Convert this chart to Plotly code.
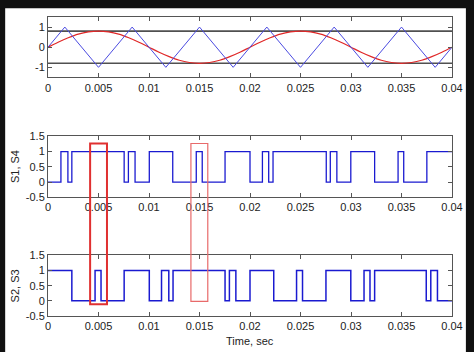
import plotly.graph_objects as go

# ---- data (time in ms) ----
carrier_t = [0, 1.667, 5, 8.333, 11.667, 15, 18.333, 21.667, 25, 28.333, 31.667, 35, 38.333, 40]
carrier_v = [0, 1, -1, 1, -1, 1, -1, 1, -1, 1, -1, 1, -1, 0]

ref_t = list(range(0, 41))
ref_v = [0, 0.25, 0.47, 0.65, 0.76, 0.80, 0.76, 0.65, 0.47, 0.25,
         0, -0.25, -0.47, -0.65, -0.76, -0.80, -0.76, -0.65, -0.47, -0.25,
         0, 0.25, 0.47, 0.65, 0.76, 0.80, 0.76, 0.65, 0.47, 0.25,
         0, -0.25, -0.47, -0.65, -0.76, -0.80, -0.76, -0.65, -0.47, -0.25, 0]

limit_levels = [0.8, -0.8]

s14_t = [0, 1.28, 1.97, 2.36, 7.54, 7.96, 8.62, 10.03, 12.35, 14.68, 15.27, 17.53,
         20.0, 21.23, 21.85, 22.28, 27.55, 27.95, 28.6, 29.98, 32.34, 34.66, 35.22, 37.51, 40]
s14_v = [0, 1, 0, 1, 0, 1, 0, 1, 0, 1, 0, 1,
         0, 1, 0, 1, 0, 1, 0, 1, 0, 1, 0, 1, 1]

s23_t = [0, 2.36, 4.66, 5.25, 7.54, 10.03, 11.24, 11.96, 12.38, 17.53, 17.96, 18.6,
         20.0, 22.35, 24.61, 25.2, 27.52, 29.98, 31.29, 31.88, 32.34, 37.45, 37.9, 38.56, 40]
s23_v = [1, 0, 1, 0, 1, 0, 1, 0, 1, 0, 1, 0,
         1, 0, 1, 0, 1, 0, 1, 0, 1, 0, 1, 0, 0]

x_ticks = [0, 0.005, 0.01, 0.015, 0.02, 0.025, 0.03, 0.035, 0.04]
x_tick_text = ["0", "0.005", "0.01", "0.015", "0.02", "0.025", "0.03", "0.035", "0.04"]
top_y_ticks = [-1, 0, 1]
pwm_y_ticks = [-0.5, 0, 0.5, 1, 1.5]
pwm_y_text = ["-0.5", "0", "0.5", "1", "1.5"]

highlight_windows = [(0.00417, 0.00584), (0.01415, 0.01582)]

def sec(ms):
    return [v / 1000.0 for v in ms]

fig = go.Figure()

# top: reference sine and triangular carrier
for lv in limit_levels:
    fig.add_trace(go.Scatter(x=[0, 0.04], y=[lv, lv], mode="lines",
                             line=dict(color="#505050", width=1.6),
                             xaxis="x", yaxis="y", hoverinfo="skip"))
fig.add_trace(go.Scatter(x=sec(ref_t), y=ref_v, mode="lines", line_shape="spline",
                         line=dict(color="#e02828", width=1.2), xaxis="x", yaxis="y"))
fig.add_trace(go.Scatter(x=sec(carrier_t), y=carrier_v, mode="lines",
                         line=dict(color="#4a4ae0", width=1), xaxis="x", yaxis="y"))

# middle / bottom: switching signals
fig.add_trace(go.Scatter(x=sec(s14_t), y=s14_v, mode="lines", line_shape="hv",
                         line=dict(color="#1a1ad0", width=1.3), xaxis="x2", yaxis="y2"))
fig.add_trace(go.Scatter(x=sec(s23_t), y=s23_v, mode="lines", line_shape="hv",
                         line=dict(color="#1a1ad0", width=1.5), xaxis="x3", yaxis="y3"))

axis_font = dict(family="Liberation Sans, Arial, sans-serif", size=11, color="#222")
xcommon = dict(range=[0, 0.04], tickvals=x_ticks, ticktext=x_tick_text,
               showline=True, linecolor="#555", linewidth=1, mirror="ticks",
               ticks="inside", ticklen=4, tickcolor="#555", showgrid=False,
               zeroline=False, tickfont=axis_font, domain=[0, 1])
ycommon = dict(showline=True, linecolor="#555", linewidth=1, mirror="ticks",
               ticks="inside", ticklen=4, tickcolor="#555", showgrid=False,
               zeroline=False, tickfont=axis_font)

shapes = []
# highlight rectangles
shapes.append(dict(type="rect", xref="x2", yref="paper",
                   x0=highlight_windows[0][0], x1=highlight_windows[0][1],
                   y0=0.039, y1=0.577, line=dict(color="#e03030", width=2)))
shapes.append(dict(type="rect", xref="x2", yref="paper",
                   x0=highlight_windows[1][0], x1=highlight_windows[1][1],
                   y0=0.049, y1=0.577, line=dict(color="#e86a6a", width=1.2)))
# dark image frame
shapes.append(dict(type="rect", xref="paper", yref="paper", x0=-0.125, x1=-0.106,
                   y0=-0.2, y1=1.1, fillcolor="#111", line=dict(width=0)))
shapes.append(dict(type="rect", xref="paper", yref="paper", x0=1.0344, x1=1.06,
                   y0=-0.2, y1=1.1, fillcolor="#111", line=dict(width=0)))
shapes.append(dict(type="rect", xref="paper", yref="paper", x0=-0.125, x1=1.06,
                   y0=1.0295, y1=1.1, fillcolor="#111", line=dict(width=0)))

annotations = [
    dict(text="Time, sec", xref="paper", yref="paper", x=0.5, y=-0.082,
         showarrow=False, font=axis_font, xanchor="center", yanchor="middle"),
    dict(text="S1, S4", xref="paper", yref="paper", x=-0.081, y=0.499,
         showarrow=False, font=axis_font, textangle=-90, xanchor="center", yanchor="middle"),
    dict(text="S2, S3", xref="paper", yref="paper", x=-0.081, y=0.1,
         showarrow=False, font=axis_font, textangle=-90, xanchor="center", yanchor="middle"),
]

fig.update_layout(
    width=474, height=352,
    margin=dict(l=48, r=19, t=11, b=36),
    paper_bgcolor="white", plot_bgcolor="white",
    showlegend=False,
    font=axis_font,
    xaxis=dict(xcommon, anchor="y"),
    xaxis2=dict(xcommon, anchor="y2"),
    xaxis3=dict(xcommon, anchor="y3"),
    yaxis=dict(ycommon, domain=[0.798, 1], range=[-1.5, 1.5], tickvals=top_y_ticks,
               ticktext=["-1", "0", "1"], anchor="x"),
    yaxis2=dict(ycommon, domain=[0.397, 0.601], range=[-0.5, 1.5], tickvals=pwm_y_ticks,
                ticktext=pwm_y_text, anchor="x2"),
    yaxis3=dict(ycommon, domain=[0, 0.203], range=[-0.5, 1.5], tickvals=pwm_y_ticks,
                ticktext=pwm_y_text, anchor="x3"),
    shapes=shapes,
    annotations=annotations,
)

fig.write_html("out.html")
